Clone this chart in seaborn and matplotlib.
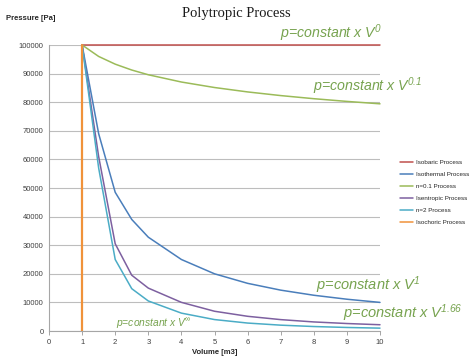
import matplotlib
matplotlib.use('Agg')
import matplotlib.pyplot as plt
import pandas as pd
import seaborn as sns

sns.set_style('white')
plt.rcParams['font.family'] = ['Liberation Sans', 'DejaVu Sans']
plt.rcParams['mathtext.fontset'] = 'custom'
plt.rcParams['mathtext.rm'] = 'Liberation Sans:italic'
plt.rcParams['mathtext.it'] = 'Liberation Sans:italic'

# values (volume in m3, pressure in Pa)
volume = [1, 1.5, 2, 2.5, 3, 4, 5, 6, 7, 8, 9, 10]
isobaric = [100000] * 12
isothermal = [100000, 69000, 48500, 39000, 32800, 25000, 20000, 16667, 14286, 12500, 11111, 10000]
n01 = [100000, 96000, 93303, 91250, 89595, 87055, 85134, 83593, 82314, 81225, 80278, 79433]
isentropic = [100000, 61000, 30500, 19500, 15000, 10013, 6906, 5141, 3980, 3168, 2615, 2188]
n2 = [100000, 57000, 25000, 14800, 10500, 6250, 4000, 2778, 2041, 1563, 1235, 1000]
isochoric_v = [1, 1]
isochoric_p = [0, 100000]

series_names = ['Isobaric Process', 'Isothermal Process', 'n=0.1 Process',
                'Isentropic Process', 'n=2 Process', 'Isochoric Process']
colors = ['#C0504D', '#4A7EBB', '#9BBB59', '#7D60A0', '#4BACC6', '#F0923A']

frames = []
for name, p in zip(series_names[:5], [isobaric, isothermal, n01, isentropic, n2]):
    frames.append(pd.DataFrame({'Volume': volume, 'Pressure': p, 'Process': name}))
frames.append(pd.DataFrame({'Volume': isochoric_v, 'Pressure': isochoric_p,
                            'Process': series_names[5]}))
df = pd.concat(frames, ignore_index=True)

fig = plt.figure(figsize=(4.74, 3.62), dpi=100)
ax = fig.add_axes([49 / 474, 1 - 331 / 362, 331 / 474, 286 / 362])

sns.lineplot(data=df, x='Volume', y='Pressure', hue='Process', hue_order=series_names,
             palette=dict(zip(series_names, colors)), estimator=None, sort=False,
             linewidth=1.1, ax=ax)
for line in ax.lines:
    line.set_clip_on(False)
    line.set_solid_joinstyle('round')
ax.lines[5].set_linewidth(1.6)

ax.set_xlim(0, 10)
ax.set_ylim(0, 100000)
ax.set_xticks(range(0, 11))
ax.set_yticks(range(0, 100001, 10000))
ax.yaxis.grid(True, color='#BDBDBD', linewidth=0.8)
ax.xaxis.grid(False)
ax.set_axisbelow(True)
for s in ['top', 'right']:
    ax.spines[s].set_visible(False)
for s in ['left', 'bottom']:
    ax.spines[s].set_color('#A6A6A6')
    ax.spines[s].set_linewidth(0.8)
ax.tick_params(axis='x', length=3, width=0.7, color='#A6A6A6', labelsize=5.5,
               labelcolor='#404040', pad=3, bottom=True)
ax.tick_params(axis='y', length=0, labelsize=5.5, labelcolor='#404040', pad=4)
ax.set_xlabel('')
ax.set_ylabel('')

fig.text(215 / 474, 1 - 352 / 362, 'Volume [m3]', ha='center', va='center',
         fontsize=5.5, fontweight='bold', color='#262626')
fig.text(6 / 474, 1 - 19 / 362, 'Pressure [Pa]', ha='left', va='center',
         fontsize=5.5, fontweight='bold', color='#262626')
fig.text(236 / 474, 1 - 14 / 362, 'Polytropic Process', ha='center', va='center',
         fontsize=10.5, family='Liberation Serif', color='#1a1a1a')

green = '#77A34F'
labels = [
    (280, 33, r'p=constant x V$^{0}$', 10.2),
    (313, 86, r'p=constant x V$^{0.1}$', 10.2),
    (316, 285, r'p=constant x V$^{1}$', 10.5),
    (343, 313, r'p=constant x V$^{1.66}$', 10.5),
    (116, 323, r'p=constant x V$^{\infty}$', 7.4),
]
for px, py, txt, fs in labels:
    fig.text(px / 474, 1 - py / 362, txt, ha='left', va='center', fontsize=fs,
             style='italic', color=green)

handles, labs = ax.get_legend_handles_labels()
ax.legend(handles, labs, loc='upper left', bbox_to_anchor=(400 / 474, 1 - 160 / 362),
          bbox_transform=fig.transFigure, frameon=False, fontsize=4.5,
          handlelength=2.0, handletextpad=0.5, labelspacing=1.05,
          borderpad=0, borderaxespad=0)

fig.savefig('out.png', dpi=100)
